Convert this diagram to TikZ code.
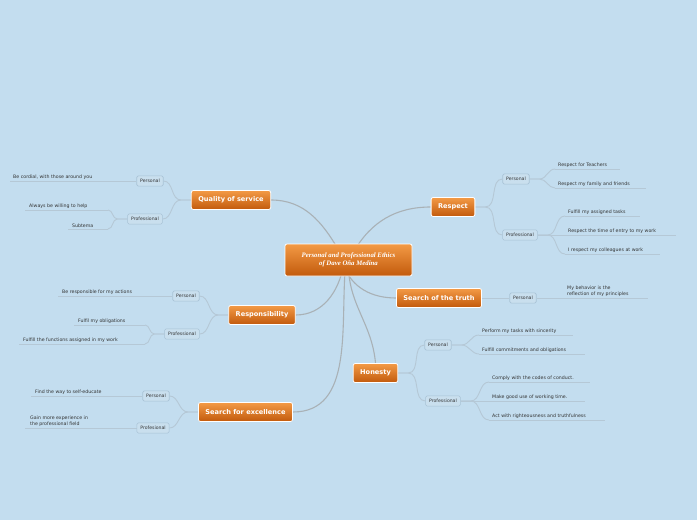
\documentclass[tikz,border=0pt]{standalone}
\usepackage{fontspec}
\setmainfont{Liberation Serif}
\setsansfont{DejaVu Sans}
\pgfdeclarelayer{edges}
\pgfsetlayers{edges,main}
\definecolor{bgc}{HTML}{C3DDEF}
\definecolor{otop}{HTML}{F39A45}
\definecolor{obot}{HTML}{C25A0C}
\definecolor{trunkc}{HTML}{A9B1B6}
\definecolor{brc}{HTML}{B5C8D6}
\definecolor{subf}{HTML}{C9DFEE}
\definecolor{subd}{HTML}{A9C3D6}
\definecolor{txt}{HTML}{333333}
\tikzset{
  mainn/.style={draw=white,line width=0.8pt,rounded corners=2pt,top color=otop,bottom color=obot,
    text=white,font=\sffamily\bfseries\fontsize{6.6}{7.5}\selectfont,minimum height=19pt,inner xsep=7pt},
  centern/.style={mainn,font=\rmfamily\itshape\bfseries\fontsize{6.8}{8}\selectfont,align=center,minimum height=32pt,minimum width=127pt},
  subn/.style={draw=subd,fill=subf,rounded corners=1.5pt,line width=0.6pt,text=txt,
    font=\sffamily\fontsize{4.6}{5.2}\selectfont,inner xsep=3.5pt,minimum height=10pt},
  leaf/.style={text=txt,font=\sffamily\fontsize{4.7}{5.6}\selectfont,inner sep=1pt,align=left},
  trunk/.style={draw=trunkc,line width=1.1pt},
  br/.style={draw=brc,line width=0.9pt},
  ul/.style={draw=brc,line width=0.6pt}
}
% name, x text, line y, line start, line end, text
\newcommand\lf[6]{\node[leaf,anchor=south west] (#1) at (#2,#3-0.5) {#6};
  \coordinate (#1s) at (#4,#3); \coordinate (#1e) at (#5,#3);
  \begin{pgfonlayer}{edges}\draw[ul] (#1s)--(#1e);\end{pgfonlayer}}
\begin{document}
\begin{tikzpicture}[x=1pt,y=-1pt]
\useasboundingbox (0,0) rectangle (697,520);
\begin{pgfonlayer}{edges}\fill[bgc] (0,0) rectangle (697,520);\end{pgfonlayer}
\node[centern] (c) at (348.5,260) {Personal and Professional Ethics\\of Dave Oña Medina};
\node[mainn] (qos) at (231,200) {Quality of service};
\node[mainn] (resp) at (262,315) {Responsibility};
\node[mainn] (sfe) at (245.5,412) {Search for excellence};
\node[mainn] (rsp) at (453,207) {Respect};
\node[mainn] (tru) at (439,298) {Search of the truth};
\node[mainn] (hon) at (375.5,373) {Honesty};
\node[subn] (qp) at (150,181) {Personal};
\node[subn] (qr) at (145,219) {Professional};
\node[subn] (rp) at (186,296) {Personal};
\node[subn] (rr) at (182,334) {Professional};
\node[subn] (sp) at (156,396) {Personal};
\node[subn] (sr) at (153,428) {Profesional};
\node[subn] (ep) at (516,179) {Personal};
\node[subn] (er) at (520,235) {Professional};
\node[subn] (tp) at (523,298) {Personal};
\node[subn] (hp) at (438,345) {Personal};
\node[subn] (hr) at (443,401) {Professional};
% leaves left
\lf{l1}{12}{181}{10}{134}{Be cordial, with those around you}
\lf{l2}{28}{210}{25}{108}{Always be willing to help}
\lf{l3}{71}{229}{68}{108}{Subtema}
\lf{l4}{61}{296}{58}{170}{Be responsible for my actions}
\lf{l5}{77}{325}{74}{145}{Fulfil my obligations}
\lf{l6}{22}{344}{19}{145}{Fulfill the functions assigned in my work}
\lf{l7}{34}{396}{31}{140}{Find the way to self-educate}
\lf{l8}{29}{428}{25}{133}{Gain more experience in\\the professional field}
% leaves right
\lf{r1}{557}{169}{555}{620}{Respect for Teachers}
\lf{r2}{557}{188}{555}{646}{Respect my family and friends}
\lf{r3}{567}{216}{565}{640}{Fulfill my assigned tasks}
\lf{r4}{567}{235}{565}{676}{Respect the time of entry to my work}
\lf{r5}{567}{254}{565}{660}{I respect my colleagues at work}
\lf{r6}{566}{298}{540}{648}{My behavior is the\\reflection of my principles}
\lf{r7}{481}{335}{479}{573}{Perform my tasks with sincerity}
\lf{r8}{481}{354}{479}{585}{Fulfill commitments and obligations}
\lf{r9}{491}{382}{489}{590}{Comply with the codes of conduct.}
\lf{r10}{491}{401}{489}{585}{Make good use of working time.}
\lf{r11}{491}{420}{489}{605}{Act with righteousness and truthfulness}
\begin{pgfonlayer}{edges}
% trunk
\draw[trunk] (c.center) ++(-10,-10) to[out=120,in=0] (qos.east);
\draw[trunk] (c.center) ++(-5,5) to[out=-100,in=0] (resp.east);
\draw[trunk] (c.center) ++(-3,5) to[out=-95,in=0] (sfe.east);
\draw[trunk] (c.center) ++(5,-8) to[out=60,in=180] (rsp.west);
\draw[trunk] (c.center) ++(-5,5) to[out=-70,in=180] (tru.west);
\draw[trunk] (c.center) ++(0,5) to[out=-90,in=95] (hon.north);
% main to sub
\draw[br] (qos.west) -- ++(-10,0) to[out=180,in=0] (qp.east);
\draw[br] (qos.west) -- ++(-10,0) to[out=180,in=0] (qr.east);
\draw[br] (resp.west) -- ++(-10,0) to[out=180,in=0] (rp.east);
\draw[br] (resp.west) -- ++(-10,0) to[out=180,in=0] (rr.east);
\draw[br] (sfe.west) -- ++(-10,0) to[out=180,in=0] (sp.east);
\draw[br] (sfe.west) -- ++(-10,0) to[out=180,in=0] (sr.east);
\draw[br] (rsp.east) -- ++(10,0) to[out=0,in=180] (ep.west);
\draw[br] (rsp.east) -- ++(10,0) to[out=0,in=180] (er.west);
\draw[br] (tru.east) -- (tp.west);
\draw[br] (hon.east) -- ++(10,0) to[out=0,in=180] (hp.west);
\draw[br] (hon.east) -- ++(10,0) to[out=0,in=180] (hr.west);
% sub to leaves
\draw[br] (qp.west) -- (l1e);
\draw[br] (qr.west) -- ++(-10,0) to[out=180,in=0] (l2e);
\draw[br] (qr.west) -- ++(-10,0) to[out=180,in=0] (l3e);
\draw[br] (rp.west) -- (l4e);
\draw[br] (rr.west) -- ++(-10,0) to[out=180,in=0] (l5e);
\draw[br] (rr.west) -- ++(-10,0) to[out=180,in=0] (l6e);
\draw[br] (sp.west) -- (l7e);
\draw[br] (sr.west) -- (l8e);
\draw[br] (ep.east) -- ++(10,0) to[out=0,in=180] (r1s);
\draw[br] (ep.east) -- ++(10,0) to[out=0,in=180] (r2s);
\draw[br] (er.east) -- ++(10,0) to[out=0,in=180] (r3s);
\draw[br] (er.east) -- (r4s);
\draw[br] (er.east) -- ++(10,0) to[out=0,in=180] (r5s);
\draw[br] (tp.east) -- (r6s);
\draw[br] (hp.east) -- ++(10,0) to[out=0,in=180] (r7s);
\draw[br] (hp.east) -- ++(10,0) to[out=0,in=180] (r8s);
\draw[br] (hr.east) -- ++(10,0) to[out=0,in=180] (r9s);
\draw[br] (hr.east) -- (r10s);
\draw[br] (hr.east) -- ++(10,0) to[out=0,in=180] (r11s);
\end{pgfonlayer}
\end{tikzpicture}
\end{document}
